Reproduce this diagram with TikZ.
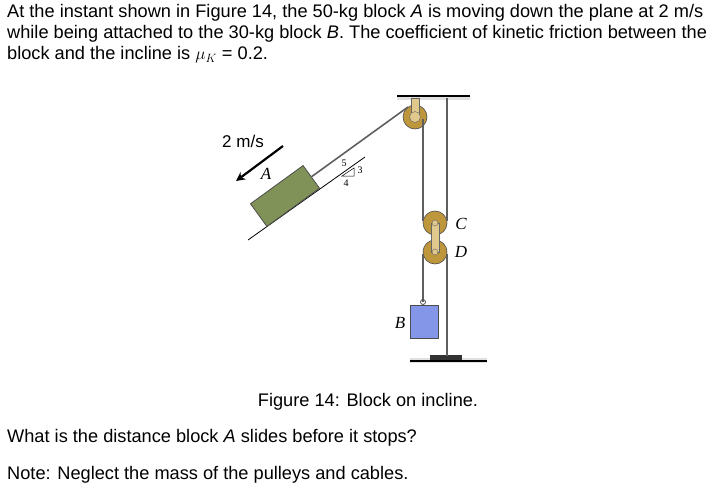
\documentclass[tikz,border=0pt]{standalone}
\usepackage{fontspec}
\setmainfont{Liberation Sans}
\newfontfamily\serifit{Liberation Serif}
\usetikzlibrary{arrows.meta}
\definecolor{blockA}{RGB}{128,146,88}
\definecolor{blockB}{RGB}{132,150,232}
\definecolor{gold}{RGB}{190,150,60}
\definecolor{tan}{RGB}{225,200,140}
\definecolor{rope}{RGB}{95,95,95}
\begin{document}
\begin{tikzpicture}[x=1pt,y=-1pt,
  txt/.style={anchor=west,inner sep=0pt,font=\fontsize{18.2}{20}\selectfont},
  lbl/.style={inner sep=0pt,font=\serifit\itshape\fontsize{17}{18}\selectfont},
  ropeline/.style={draw=rope,line width=1.6pt},
  pulley/.style={circle,draw=black!70,fill=gold,line width=0.6pt,minimum size=24pt,inner sep=0pt},
  hub/.style={circle,fill=tan,draw=black!60,minimum size=11pt,inner sep=0pt}]
\useasboundingbox (0,0) rectangle (715,490);
% text
\node[txt] (t1) at (7,13) {At the instant shown in Figure 14, the 50-kg block \textit{A} is moving down the plane at 2 m/s};
\node[txt] (t2) at (7,34) {while being attached to the 30-kg block \textit{B}. The coefficient of kinetic friction between the};
\node[txt] (t3) at (7,55) {block and the incline is $\mu_K$ = 0.2.};
\node[inner sep=0pt,font=\fontsize{18.2}{20}\selectfont] (cap) at (368,402) {Figure 14: Block on incline.};
\node[txt] (q) at (7,438) {What is the distance block \textit{A} slides before it stops?};
\node[txt] (n) at (7,475) {Note: Neglect the mass of the pulleys and cables.};
% ceiling and floor
\fill[black!12] (397,95) rectangle (470,100);
\draw[line width=1.3pt] (397,96) -- (470,96);
\fill[black!12] (410,358) rectangle (487,363);
\draw[line width=1.3pt] (410,361) -- (487,361);
\fill[black!80] (430,355) rectangle (462,360);
% incline
\draw[line width=0.8pt] (248,240) -- (365,157);
% slope triangle
\draw[line width=0.5pt] (342,176) -- (354,176) -- (354,168) -- cycle;
\node[lbl,font=\serifit\fontsize{10}{10}\selectfont] (s5) at (344,163) {5};
\node[lbl,font=\serifit\fontsize{10}{10}\selectfont] (s3) at (360,170) {3};
\node[lbl,font=\serifit\fontsize{10}{10}\selectfont] (s4) at (346,183) {4};
% block A
\node[draw=black!70,fill=blockA,line width=0.8pt,minimum width=65pt,minimum height=28pt,rotate=36,inner sep=0pt] (A) at (285,196) {};
\node[lbl] (Alab) at (266,174) {A};
% pulleys
\node[pulley] (P) at (415,117) {};
\node[pulley] (C) at (435,223) {};
\node[pulley] (D) at (435,252) {};
\fill[tan,draw=black!60] (411,98) rectangle (419,117);
\draw[fill=tan,draw=black!60,line width=0.5pt] (431,223) rectangle (439,252);
\node[hub] at (P) {};
\node[hub,minimum size=6pt] at (C) {};
\node[hub,minimum size=6pt] at (D) {};
% ropes
\coordinate (floorR) at (447,356);
\draw[ropeline] (A.east) -- (408,107);
\draw[ropeline] (423,119) -- (423,221);
\draw[ropeline] (447,98) -- (447,221);
\draw[ropeline] (423,254) -- (423,302);
\draw[ropeline] (447,254) -- (floorR);
% block B
\node[draw=black!70,fill=blockB,line width=0.8pt,minimum width=28pt,minimum height=33pt,inner sep=0pt] (B) at (424,322) {};
\draw[black!70,line width=0.8pt] (423,302) circle (2.5);
\node[lbl] (Blab) at (400,323) {B};
\node[lbl] (Clab) at (461,224) {C};
\node[lbl] (Dlab) at (461,252) {D};
% velocity arrow
\coordinate (v1) at (283,146);
\coordinate (v2) at (236,181);
\draw[line width=2.2pt,-{Stealth[length=9pt,width=9pt]}] (v1) -- (v2);
\node[inner sep=0pt,font=\fontsize{17}{18}\selectfont] (vlab) at (243,141) {2 m/s};
\end{tikzpicture}
\end{document}
